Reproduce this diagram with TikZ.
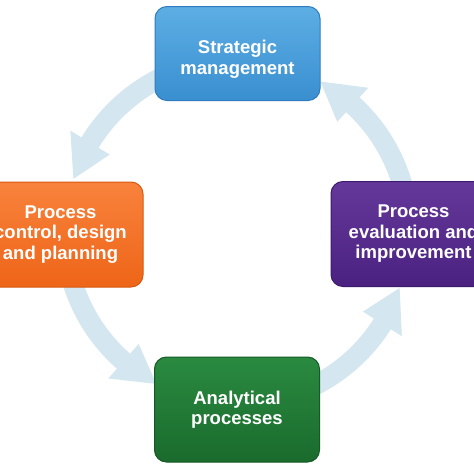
\documentclass[tikz,border=0pt]{standalone}
\usepackage{fontspec}
\setmainfont{Liberation Sans}
\definecolor{arrowfill}{RGB}{212,230,239}
\definecolor{blueT}{RGB}{92,174,227}
\definecolor{blueB}{RGB}{58,143,208}
\definecolor{blueD}{RGB}{47,125,191}
\definecolor{orangeT}{RGB}{248,130,60}
\definecolor{orangeB}{RGB}{238,101,24}
\definecolor{orangeD}{RGB}{215,90,16}
\definecolor{purpleT}{RGB}{100,56,154}
\definecolor{purpleB}{RGB}{74,33,128}
\definecolor{purpleD}{RGB}{62,26,110}
\definecolor{greenT}{RGB}{42,138,64}
\definecolor{greenB}{RGB}{26,107,45}
\definecolor{greenD}{RGB}{21,90,37}
\newcommand\cyclearrow[2]{%
  \pgfmathsetmacro\csA{-#1}%
  \pgfmathsetmacro\csT{-#2}%
  \pgfmathsetmacro\csB{-#2+13.3}%
  \fill[arrowfill] (\csA:182) arc[start angle=\csA, end angle=\csB, radius=182]
    -- (\csB:195) -- (\csT:172) -- (\csB:149) -- (\csB:162)
    arc[start angle=\csB, end angle=\csA, radius=162] -- cycle;}
\begin{document}
\begin{tikzpicture}[x=1pt,y=-1pt,
  boxtext/.style={text=white, align=center,
    font=\fontsize{18.5}{20.5}\selectfont\bfseries},
  box/.style={rectangle, rounded corners=12pt, minimum width=165pt,
    minimum height=105pt, line width=1pt, boxtext, inner sep=2pt},
  bluebox/.style={box, draw=blueD, top color=blueT, bottom color=blueB},
  orangebox/.style={box, draw=orangeD, top color=orangeT, bottom color=orangeB},
  purplebox/.style={box, draw=purpleD, top color=purpleT, bottom color=purpleB},
  greenbox/.style={box, draw=greenD, top color=greenT, bottom color=greenB}]
\useasboundingbox (0,0) rectangle (474,474);
\clip (0,0) rectangle (474,474);
\fill[white] (0,0) rectangle (474,474);
\coordinate (ctr) at (237,232);
\begin{scope}[shift={(ctr)}]
  \cyclearrow{105}{162}
  \cyclearrow{190}{242}
  \cyclearrow{285}{341}
  \cyclearrow{10}{61}
\end{scope}
\node[bluebox, minimum height=94pt,
  label={[boxtext, yshift=-6pt]center:{Strategic\\management}}] (strat) at (237.5,53.5) {};
\node[orangebox] (ctrl) at (60.5,234.5) {Process\\control, design\\and planning};
\node[purplebox] (eval) at (413.5,234) {Process\\evaluation and\\improvement};
\node[greenbox] (anal) at (237,409.5) {Analytical\\processes};
\end{tikzpicture}
\end{document}
